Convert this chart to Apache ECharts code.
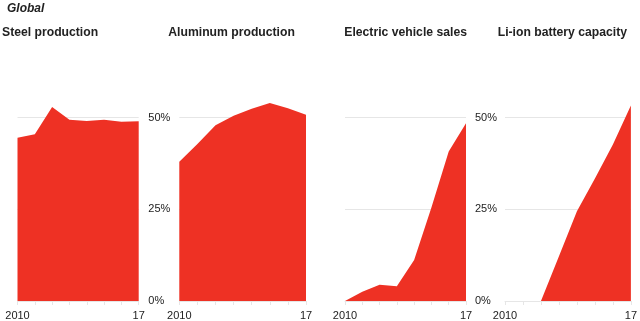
<!DOCTYPE html>
<html>
<head>
<meta charset="utf-8">
<script src="https://cdn.jsdelivr.net/npm/echarts@6/dist/echarts.min.js"></script>
<style>
  html, body { margin: 0; padding: 0; background: #fff; }
  #chart { width: 640px; height: 321px; }
</style>
</head>
<body>
<div id="chart"></div>
<script>
// Years shown on every panel's horizontal axis
const years = ['2010', '2011', '2012', '2013', '2014', '2015', '2016', '2017'];
const firstYearLabel = '2010';
const lastYearLabel = '17';

// Share of global total, percent
const steel = [44.5, 45.5, 52.9, 49.4, 49.1, 49.4, 48.9, 49.0];
const aluminum = [38.0, 42.8, 47.9, 50.5, 52.4, 54.0, 52.6, 50.8];
const evSales = [0, 2.5, 4.4, 4.0, 11.2, 25.5, 40.8, 48.5];
const batteryCapacity = [0, 0, 0, 12.2, 24.5, 33.4, 42.7, 53.3];

// Percent ticks for the value axes
const yTicks = [0, 25, 50];

const panelTitles = ['Steel production', 'Aluminum production', 'Electric vehicle sales', 'Li-ion battery capacity'];
const headline = 'Global';

const RED = '#ee3124';
const GRID = '#e6e6e6';
const TEXT = '#222';
const FONT = '"Liberation Sans", Arial, Helvetica, sans-serif';

const panels = [
  { data: steel,           left: 17.5,  width: 121.2, title: 2,     showY: false },
  { data: aluminum,        left: 179.3, width: 126.7, title: 168.3, showY: true, margin: 31 },
  { data: evSales,         left: 345,   width: 121,   title: 344.3, showY: false },
  { data: batteryCapacity, left: 505,   width: 127.2, title: 497.7, showY: true, margin: 30 }
];

const yStep = yTicks[1] - yTicks[0];
const yMax = yTicks[yTicks.length - 1] + yStep; // one spare step above the top tick, never drawn
const zeroY = 302;
const pxPerUnit = 3.68;
const gridTop = zeroY - yMax * pxPerUnit;
const gridHeight = yMax * pxPerUnit;

const option = {
  animation: false,
  textStyle: { fontFamily: FONT },
  title: [
    { text: headline, left: 2, top: -2, textStyle: { fontSize: 12, fontWeight: 'bold', fontStyle: 'italic', color: TEXT, fontFamily: FONT } }
  ].concat(panels.map((p, i) => ({
    text: panelTitles[i], left: p.title, top: 27,
    padding: 0,
    textStyle: { fontSize: 12.2, fontWeight: 'bold', color: TEXT, fontFamily: FONT }
  }))),
  grid: panels.map(p => ({ left: p.left, width: p.width, top: gridTop, height: gridHeight, containLabel: false })),
  xAxis: panels.map((p, i) => ({
    type: 'category',
    gridIndex: i,
    data: years,
    boundaryGap: false,
    axisLine: { show: true, lineStyle: { color: GRID, width: 1 } },
    axisTick: { show: true, length: 4, interval: 0, lineStyle: { color: GRID } },
    axisLabel: {
      interval: 0, margin: 9, fontSize: 11, color: TEXT, fontFamily: FONT,
      formatter: (v, idx) => idx === 0 ? firstYearLabel : (idx === years.length - 1 ? lastYearLabel : '')
    },
    splitLine: { show: false }
  })),
  yAxis: panels.map((p, i) => ({
    type: 'value',
    gridIndex: i,
    min: 0,
    max: yMax,
    interval: yStep,
    axisLine: { show: false },
    axisTick: { show: false },
    axisLabel: {
      show: p.showY,
      margin: p.margin || 8,
      align: 'left',
      fontSize: 11,
      color: TEXT,
      fontFamily: FONT,
      formatter: v => yTicks.includes(v) ? v + '%' : ''
    },
    splitLine: { show: true, lineStyle: { color: [GRID, GRID, GRID, 'rgba(0,0,0,0)'], width: 1 } }
  })),
  series: panels.map((p, i) => ({
    type: 'line',
    xAxisIndex: i,
    yAxisIndex: i,
    data: p.data,
    symbol: 'none',
    lineStyle: { width: 0 },
    itemStyle: { color: RED },
    areaStyle: { color: RED, opacity: 1 },
    z: 3
  }))
};

const chart = echarts.init(document.getElementById('chart'), null, { renderer: 'canvas' });
chart.setOption(option);
</script>
</body>
</html>
